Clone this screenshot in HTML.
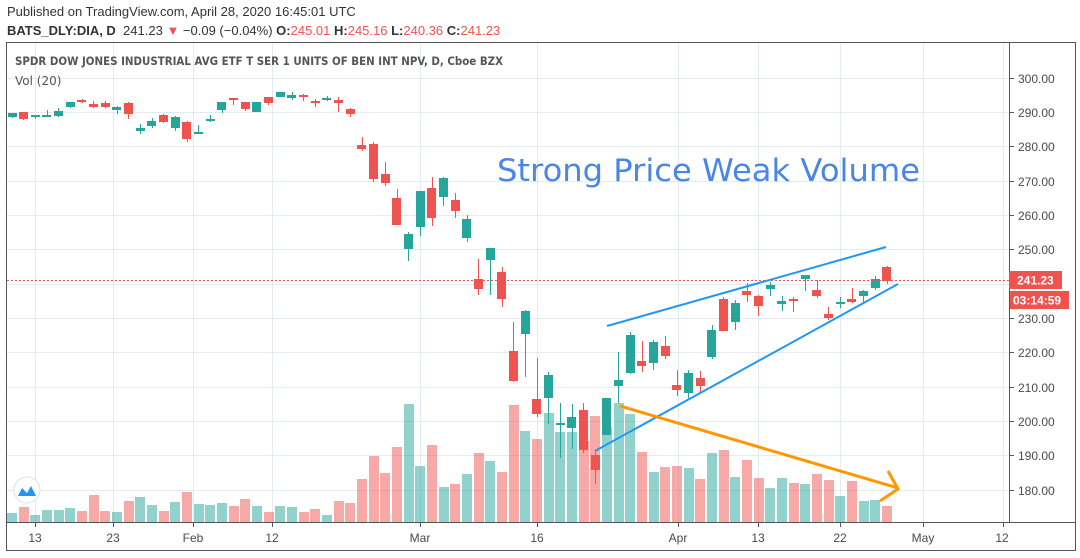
<!DOCTYPE html>
<html><head><meta charset="utf-8">
<style>
html,body{margin:0;padding:0;background:#fff;}
body{width:1080px;height:558px;overflow:hidden;position:relative;font-family:"Liberation Sans",sans-serif;}
.h1{position:absolute;left:7px;top:4px;font-size:13px;color:#333;}
.h2{position:absolute;left:7px;top:23px;font-size:13px;color:#333;}
.h2 b{font-weight:bold;}
.r{color:#ef5350;}
svg{position:absolute;left:0;top:0;}
.t{fill:#26a69a}.d{fill:#ef5350}
.vt{fill:#26a69a;fill-opacity:.5}.vd{fill:#ef5350;fill-opacity:.5}
.ax{font-family:"Liberation Sans",sans-serif;font-size:12px;fill:#4a4a4a}
</style></head><body>
<div class="h1">Published on TradingView.com, April 28, 2020 16:45:01 UTC</div>
<div class="h2"><b>BATS_DLY:DIA, D</b>&nbsp; 241.23 <span class="r">▼</span> −0.09 (−0.04%) <b>O:</b><span class="r">245.01</span> <b>H:</b><span class="r">245.16</span> <b>L:</b><span class="r">240.36</span> <b>C:</b><span class="r">241.23</span></div>
<svg width="1080" height="558" viewBox="0 0 1080 558">
<g stroke="#e3ebf2" stroke-width="1">
<line x1="7" x2="1009" y1="78.5" y2="78.5"/><line x1="7" x2="1009" y1="112.5" y2="112.5"/><line x1="7" x2="1009" y1="146.5" y2="146.5"/><line x1="7" x2="1009" y1="181.5" y2="181.5"/><line x1="7" x2="1009" y1="215.5" y2="215.5"/><line x1="7" x2="1009" y1="249.5" y2="249.5"/><line x1="7" x2="1009" y1="284.5" y2="284.5"/><line x1="7" x2="1009" y1="318.5" y2="318.5"/><line x1="7" x2="1009" y1="352.5" y2="352.5"/><line x1="7" x2="1009" y1="387.5" y2="387.5"/><line x1="7" x2="1009" y1="421.5" y2="421.5"/><line x1="7" x2="1009" y1="455.5" y2="455.5"/><line x1="7" x2="1009" y1="490.5" y2="490.5"/>
<line x1="35.5" x2="35.5" y1="43" y2="522"/><line x1="113.5" x2="113.5" y1="43" y2="522"/><line x1="193.5" x2="193.5" y1="43" y2="522"/><line x1="272.5" x2="272.5" y1="43" y2="522"/><line x1="420.5" x2="420.5" y1="43" y2="522"/><line x1="537.5" x2="537.5" y1="43" y2="522"/><line x1="678.5" x2="678.5" y1="43" y2="522"/><line x1="758.5" x2="758.5" y1="43" y2="522"/><line x1="840.5" x2="840.5" y1="43" y2="522"/><line x1="923.5" x2="923.5" y1="43" y2="522"/><line x1="1003.5" x2="1003.5" y1="43" y2="522"/>
</g>
<!-- volume -->
<g>
<rect class="vt" x="7" y="513" width="10" height="9"/><rect class="vd" x="19" y="507" width="10" height="15"/><rect class="vt" x="30" y="515" width="10" height="7"/><rect class="vt" x="42" y="510" width="10" height="12"/><rect class="vt" x="54" y="510" width="10" height="12"/><rect class="vt" x="65" y="508" width="10" height="14"/><rect class="vd" x="77" y="511" width="10" height="11"/><rect class="vd" x="89" y="495" width="10" height="27"/><rect class="vd" x="100" y="511" width="10" height="11"/><rect class="vt" x="112" y="512" width="10" height="10"/>
<rect class="vd" x="124" y="501" width="10" height="21"/><rect class="vt" x="135" y="497" width="10" height="25"/><rect class="vt" x="147" y="505" width="10" height="17"/><rect class="vd" x="159" y="511" width="10" height="11"/><rect class="vt" x="170" y="502" width="10" height="20"/><rect class="vd" x="182" y="492" width="10" height="30"/><rect class="vt" x="194" y="504" width="10" height="18"/><rect class="vt" x="205" y="505" width="10" height="17"/><rect class="vt" x="217" y="503" width="10" height="19"/><rect class="vd" x="229" y="506" width="10" height="16"/>
<rect class="vd" x="240" y="499" width="10" height="23"/><rect class="vt" x="252" y="506" width="10" height="16"/><rect class="vd" x="264" y="512" width="10" height="10"/><rect class="vt" x="275" y="506" width="10" height="16"/><rect class="vt" x="287" y="507" width="10" height="15"/><rect class="vd" x="299" y="512" width="10" height="10"/><rect class="vd" x="310" y="509" width="10" height="13"/><rect class="vt" x="322" y="515" width="10" height="7"/><rect class="vd" x="334" y="501" width="10" height="21"/><rect class="vd" x="345" y="503" width="10" height="19"/>
<rect class="vd" x="357" y="479" width="10" height="43"/><rect class="vd" x="369" y="456" width="10" height="66"/><rect class="vd" x="380" y="473" width="10" height="49"/><rect class="vd" x="392" y="447" width="10" height="75"/><rect class="vt" x="404" y="404" width="10" height="118"/><rect class="vt" x="415" y="466" width="10" height="56"/><rect class="vd" x="427" y="445" width="10" height="77"/><rect class="vt" x="439" y="487" width="10" height="35"/><rect class="vd" x="450" y="484" width="10" height="38"/><rect class="vt" x="462" y="474" width="10" height="48"/>
<rect class="vd" x="474" y="453" width="10" height="69"/><rect class="vt" x="485" y="461" width="10" height="61"/><rect class="vd" x="497" y="472" width="10" height="50"/><rect class="vd" x="509" y="405" width="10" height="117"/><rect class="vt" x="520" y="431" width="10" height="91"/><rect class="vd" x="532" y="439" width="10" height="83"/><rect class="vt" x="544" y="413" width="10" height="109"/><rect class="vt" x="555" y="432" width="10" height="90"/><rect class="vt" x="567" y="432" width="10" height="90"/><rect class="vd" x="579" y="441" width="10" height="81"/>
<rect class="vd" x="590" y="416" width="10" height="106"/><rect class="vt" x="602" y="427" width="10" height="95"/><rect class="vt" x="614" y="403" width="10" height="119"/><rect class="vt" x="625" y="414" width="10" height="108"/><rect class="vd" x="637" y="452" width="10" height="70"/><rect class="vt" x="649" y="472" width="10" height="50"/><rect class="vd" x="660" y="467" width="10" height="55"/><rect class="vd" x="672" y="466" width="10" height="56"/><rect class="vt" x="684" y="468" width="10" height="54"/><rect class="vd" x="695" y="479" width="10" height="43"/>
<rect class="vt" x="707" y="453" width="10" height="69"/><rect class="vd" x="719" y="450" width="10" height="72"/><rect class="vt" x="730" y="477" width="10" height="45"/><rect class="vd" x="742" y="460" width="10" height="62"/><rect class="vd" x="754" y="478" width="10" height="44"/><rect class="vt" x="765" y="488" width="10" height="34"/><rect class="vt" x="777" y="478" width="10" height="44"/><rect class="vd" x="789" y="483" width="10" height="39"/><rect class="vt" x="800" y="484" width="10" height="38"/><rect class="vd" x="812" y="474" width="10" height="48"/>
<rect class="vd" x="824" y="480" width="10" height="42"/><rect class="vt" x="835" y="496" width="10" height="26"/><rect class="vd" x="847" y="481" width="10" height="41"/><rect class="vt" x="859" y="501" width="10" height="21"/><rect class="vt" x="870" y="500" width="10" height="22"/><rect class="vd" x="882" y="506" width="10" height="16"/>
</g>
<!-- candles: wick then body -->
<g>
<rect class="t" x="12" y="113" width="1" height="5"/><rect class="t" x="8" y="113" width="9" height="4"/>
<rect class="d" x="23" y="112" width="1" height="8"/><rect class="d" x="19" y="112" width="9" height="7"/>
<rect class="t" x="35" y="115" width="1" height="4"/><rect class="t" x="31" y="115" width="9" height="2"/>
<rect class="t" x="47" y="110" width="1" height="7"/><rect class="t" x="42" y="115" width="9" height="2"/>
<rect class="t" x="58" y="108" width="1" height="9"/><rect class="t" x="54" y="111" width="9" height="5"/>
<rect class="t" x="70" y="102" width="1" height="6"/><rect class="t" x="66" y="102" width="9" height="5"/>
<rect class="d" x="82" y="99" width="1" height="4"/><rect class="d" x="77" y="100" width="9" height="2"/>
<rect class="d" x="93" y="101" width="1" height="7"/><rect class="d" x="89" y="104" width="9" height="3"/>
<rect class="d" x="105" y="101" width="1" height="7"/><rect class="d" x="101" y="103" width="9" height="4"/>
<rect class="t" x="117" y="106" width="1" height="8"/><rect class="t" x="112" y="107" width="9" height="3"/>
<rect class="d" x="128" y="102" width="1" height="17"/><rect class="d" x="124" y="103" width="9" height="11"/>
<rect class="t" x="140" y="124" width="1" height="10"/><rect class="t" x="136" y="128" width="9" height="3"/>
<rect class="t" x="152" y="118" width="1" height="10"/><rect class="t" x="147" y="121" width="9" height="5"/>
<rect class="d" x="163" y="114" width="1" height="9"/><rect class="d" x="159" y="115" width="9" height="7"/>
<rect class="t" x="175" y="116" width="1" height="15"/><rect class="t" x="171" y="117" width="9" height="11"/>
<rect class="d" x="187" y="121" width="1" height="21"/><rect class="d" x="182" y="122" width="9" height="17"/>
<rect class="t" x="198" y="125" width="1" height="9"/><rect class="t" x="194" y="132" width="9" height="2"/>
<rect class="t" x="210" y="115" width="1" height="7"/><rect class="t" x="206" y="119" width="9" height="2"/>
<rect class="t" x="222" y="102" width="1" height="11"/><rect class="t" x="217" y="102" width="9" height="8"/>
<rect class="d" x="233" y="98" width="1" height="7"/><rect class="d" x="229" y="98" width="9" height="2"/>
<rect class="d" x="245" y="102" width="1" height="9"/><rect class="d" x="241" y="102" width="9" height="7"/>
<rect class="t" x="257" y="102" width="1" height="10"/><rect class="t" x="252" y="102" width="9" height="10"/>
<rect class="d" x="268" y="97" width="1" height="8"/><rect class="d" x="264" y="97" width="9" height="6"/>
<rect class="t" x="280" y="92" width="1" height="5"/><rect class="t" x="276" y="92" width="9" height="5"/>
<rect class="t" x="292" y="92" width="1" height="8"/><rect class="t" x="287" y="95" width="9" height="3"/>
<rect class="d" x="303" y="94" width="1" height="7"/><rect class="d" x="299" y="95" width="9" height="2"/>
<rect class="d" x="315" y="99" width="1" height="8"/><rect class="d" x="311" y="101" width="9" height="2"/>
<rect class="t" x="327" y="96" width="1" height="5"/><rect class="t" x="322" y="98" width="9" height="2"/>
<rect class="d" x="338" y="97" width="1" height="15"/><rect class="d" x="334" y="100" width="9" height="3"/>
<rect class="d" x="350" y="108" width="1" height="9"/><rect class="d" x="346" y="109" width="9" height="5"/>
<rect class="d" x="362" y="137" width="1" height="14"/><rect class="d" x="357" y="145" width="9" height="4"/>
<rect class="d" x="373" y="142" width="1" height="40"/><rect class="d" x="369" y="144" width="9" height="35"/>
<rect class="d" x="385" y="162" width="1" height="24"/><rect class="d" x="381" y="174" width="9" height="9"/>
<rect class="d" x="397" y="189" width="1" height="36"/><rect class="d" x="392" y="198" width="9" height="27"/>
<rect class="t" x="408" y="232" width="1" height="29"/><rect class="t" x="404" y="234" width="9" height="15"/>
<rect class="t" x="420" y="191" width="1" height="45"/><rect class="t" x="416" y="191" width="9" height="36"/>
<rect class="d" x="432" y="177" width="1" height="49"/><rect class="d" x="427" y="188" width="9" height="30"/>
<rect class="t" x="443" y="177" width="1" height="29"/><rect class="t" x="439" y="178" width="9" height="19"/>
<rect class="d" x="455" y="193" width="1" height="25"/><rect class="d" x="451" y="200" width="9" height="11"/>
<rect class="t" x="467" y="215" width="1" height="27"/><rect class="t" x="462" y="219" width="9" height="19"/>
<rect class="d" x="478" y="259" width="1" height="36"/><rect class="d" x="474" y="279" width="9" height="10"/>
<rect class="t" x="490" y="248" width="1" height="47"/><rect class="t" x="486" y="248" width="9" height="12"/>
<rect class="d" x="502" y="267" width="1" height="40"/><rect class="d" x="497" y="272" width="9" height="27"/>
<rect class="d" x="513" y="322" width="1" height="60"/><rect class="d" x="509" y="351" width="9" height="30"/>
<rect class="t" x="525" y="310" width="1" height="67"/><rect class="t" x="521" y="311" width="9" height="23"/>
<rect class="d" x="537" y="358" width="1" height="59"/><rect class="d" x="532" y="399" width="9" height="15"/>
<rect class="t" x="548" y="372" width="1" height="52"/><rect class="t" x="544" y="375" width="9" height="23"/>
<rect class="t" x="560" y="403" width="1" height="55"/><rect class="t" x="556" y="423" width="9" height="2"/>
<rect class="t" x="572" y="404" width="1" height="45"/><rect class="t" x="567" y="417" width="9" height="11"/>
<rect class="d" x="583" y="403" width="1" height="50"/><rect class="d" x="579" y="410" width="9" height="40"/>
<rect class="d" x="595" y="452" width="1" height="32"/><rect class="d" x="591" y="455" width="9" height="15"/>
<rect class="t" x="607" y="398" width="1" height="37"/><rect class="t" x="602" y="398" width="9" height="37"/>
<rect class="t" x="618" y="352" width="1" height="51"/><rect class="t" x="614" y="380" width="9" height="6"/>
<rect class="t" x="630" y="332" width="1" height="42"/><rect class="t" x="626" y="335" width="9" height="38"/>
<rect class="d" x="642" y="341" width="1" height="31"/><rect class="d" x="637" y="361" width="9" height="5"/>
<rect class="t" x="653" y="340" width="1" height="30"/><rect class="t" x="649" y="342" width="9" height="21"/>
<rect class="d" x="665" y="336" width="1" height="23"/><rect class="d" x="661" y="346" width="9" height="10"/>
<rect class="d" x="677" y="370" width="1" height="26"/><rect class="d" x="672" y="385" width="9" height="5"/>
<rect class="t" x="688" y="370" width="1" height="28"/><rect class="t" x="684" y="373" width="9" height="20"/>
<rect class="d" x="700" y="371" width="1" height="21"/><rect class="d" x="696" y="378" width="9" height="8"/>
<rect class="t" x="712" y="325" width="1" height="34"/><rect class="t" x="707" y="330" width="9" height="27"/>
<rect class="d" x="723" y="297" width="1" height="34"/><rect class="d" x="719" y="299" width="9" height="32"/>
<rect class="t" x="735" y="300" width="1" height="30"/><rect class="t" x="731" y="303" width="9" height="19"/>
<rect class="d" x="747" y="283" width="1" height="19"/><rect class="d" x="742" y="291" width="9" height="4"/>
<rect class="d" x="758" y="295" width="1" height="21"/><rect class="d" x="754" y="296" width="9" height="10"/>
<rect class="t" x="770" y="282" width="1" height="14"/><rect class="t" x="766" y="285" width="9" height="4"/>
<rect class="t" x="782" y="296" width="1" height="15"/><rect class="t" x="777" y="301" width="9" height="3"/>
<rect class="d" x="793" y="297" width="1" height="15"/><rect class="d" x="789" y="299" width="9" height="2"/>
<rect class="t" x="805" y="275" width="1" height="16"/><rect class="t" x="801" y="275" width="9" height="4"/>
<rect class="d" x="817" y="280" width="1" height="18"/><rect class="d" x="812" y="290" width="9" height="6"/>
<rect class="d" x="828" y="307" width="1" height="13"/><rect class="d" x="824" y="314" width="9" height="4"/>
<rect class="t" x="840" y="297" width="1" height="11"/><rect class="t" x="836" y="302" width="9" height="2"/>
<rect class="d" x="852" y="288" width="1" height="15"/><rect class="d" x="847" y="299" width="9" height="3"/>
<rect class="t" x="863" y="290" width="1" height="14"/><rect class="t" x="859" y="291" width="9" height="5"/>
<rect class="t" x="875" y="276" width="1" height="14"/><rect class="t" x="871" y="279" width="9" height="9"/>
<rect class="d" x="887" y="266" width="1" height="18"/><rect class="d" x="882" y="267" width="9" height="14"/>
</g>
<line x1="7" x2="1009" y1="280.5" y2="280.5" stroke="#ef5350" stroke-width="1" stroke-dasharray="2,2"/>
<!-- drawings -->
<line x1="607" y1="326" x2="886" y2="247" stroke="#2196f3" stroke-width="2"/>
<line x1="595" y1="451" x2="898" y2="284" stroke="#2196f3" stroke-width="2"/>
<line x1="620" y1="406" x2="898" y2="488" stroke="#ff9800" stroke-width="3"/>
<polyline points="888,471 898,489 880,501" fill="none" stroke="#ff9800" stroke-width="3"/>
<text x="497" y="181" font-family="'DejaVu Sans',sans-serif" font-size="31" fill="#4a86e8" textLength="423" lengthAdjust="spacingAndGlyphs">Strong Price Weak Volume</text>
<text x="15" y="65" font-family="'DejaVu Sans',sans-serif" font-size="11.5" font-weight="bold" fill="#555" textLength="488" lengthAdjust="spacingAndGlyphs">SPDR DOW JONES INDUSTRIAL AVG ETF T SER 1 UNITS OF BEN INT NPV, D, Cboe BZX</text>
<text x="15" y="85" font-family="'DejaVu Sans',sans-serif" font-size="12" fill="#555">Vol (20)</text>
<!-- frame & axes -->
<rect x="6.5" y="42.5" width="1069" height="508" fill="none" stroke="#555" stroke-width="1"/>
<line x1="7" x2="1076" y1="522.5" y2="522.5" stroke="#555"/>
<line x1="1009.5" x2="1009.5" y1="43" y2="551" stroke="#555"/>
<g stroke="#555">
<line x1="1010" x2="1014" y1="78.5" y2="78.5"/><line x1="1010" x2="1014" y1="112.5" y2="112.5"/><line x1="1010" x2="1014" y1="146.5" y2="146.5"/><line x1="1010" x2="1014" y1="181.5" y2="181.5"/><line x1="1010" x2="1014" y1="215.5" y2="215.5"/><line x1="1010" x2="1014" y1="249.5" y2="249.5"/><line x1="1010" x2="1014" y1="318.5" y2="318.5"/><line x1="1010" x2="1014" y1="352.5" y2="352.5"/><line x1="1010" x2="1014" y1="387.5" y2="387.5"/><line x1="1010" x2="1014" y1="421.5" y2="421.5"/><line x1="1010" x2="1014" y1="455.5" y2="455.5"/><line x1="1010" x2="1014" y1="490.5" y2="490.5"/>
<line x1="35.5" x2="35.5" y1="523" y2="527"/><line x1="113.5" x2="113.5" y1="523" y2="527"/><line x1="193.5" x2="193.5" y1="523" y2="527"/><line x1="272.5" x2="272.5" y1="523" y2="527"/><line x1="420.5" x2="420.5" y1="523" y2="527"/><line x1="537.5" x2="537.5" y1="523" y2="527"/><line x1="678.5" x2="678.5" y1="523" y2="527"/><line x1="758.5" x2="758.5" y1="523" y2="527"/><line x1="840.5" x2="840.5" y1="523" y2="527"/><line x1="923.5" x2="923.5" y1="523" y2="527"/><line x1="1003.5" x2="1003.5" y1="523" y2="527"/>
</g>
<g class="ax">
<text x="1018" y="83">300.00</text><text x="1018" y="117">290.00</text><text x="1018" y="151">280.00</text><text x="1018" y="186">270.00</text><text x="1018" y="220">260.00</text><text x="1018" y="254">250.00</text><text x="1018" y="323">230.00</text><text x="1018" y="357">220.00</text><text x="1018" y="392">210.00</text><text x="1018" y="426">200.00</text><text x="1018" y="460">190.00</text><text x="1018" y="495">180.00</text>
</g>
<rect x="1009" y="271" width="53" height="18" fill="#ef5350"/>
<text x="1017" y="284.5" font-family="'Liberation Sans',sans-serif" font-size="12" font-weight="bold" fill="#fff">241.23</text>
<rect x="1010" y="291" width="59" height="18" fill="#ef5350"/>
<text x="1013" y="304.5" font-family="'Liberation Sans',sans-serif" font-size="12" font-weight="bold" fill="#fff">03:14:59</text>
<g class="ax" text-anchor="middle">
<text x="35" y="542">13</text><text x="113" y="542">23</text><text x="193" y="542">Feb</text><text x="272" y="542">12</text><text x="420" y="542">Mar</text><text x="537" y="542">16</text><text x="678" y="542">Apr</text><text x="758" y="542">13</text><text x="840" y="542">22</text><text x="923" y="542">May</text><text x="1002" y="542">12</text>
</g>
<rect x="1009" y="523" width="66" height="27" fill="#fff"/>
<!-- logo -->
<circle cx="27" cy="490" r="13" fill="#fff" stroke="#e0e0e0"/>
<path d="M18,496 L22,488 L27,493 L31,486 L36,496 Z" fill="#2196f3"/>
</svg>
</body></html>
